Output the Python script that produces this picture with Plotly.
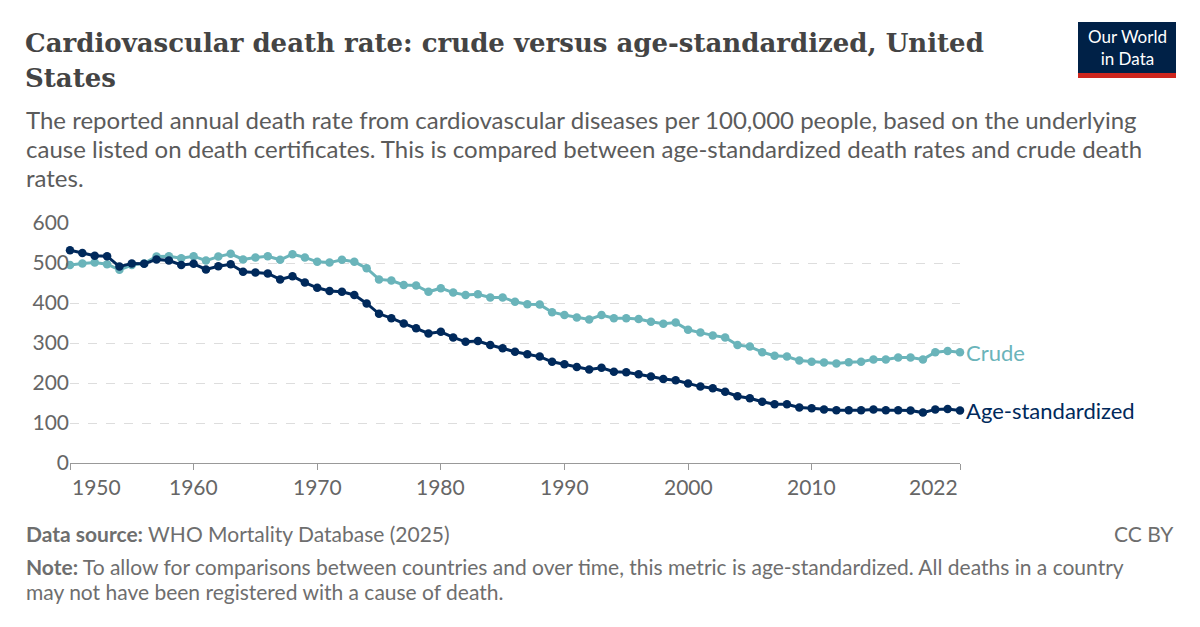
import plotly.graph_objects as go

years = list(range(1950, 2023))

crude = [495, 499, 501, 497, 483, 495, 499, 516, 517, 512,
         517, 506, 516, 523, 509, 514, 517, 508, 522, 514,
         503, 501, 508, 503, 487, 459, 456, 445, 444, 428,
         437, 426, 420, 422, 414, 414, 403, 397, 396, 377,
         370, 364, 359, 370, 362, 362, 360, 353, 348, 351,
         333, 326, 319, 314, 295, 291, 277, 268, 266, 256,
         253, 251, 249, 252, 253, 259, 259, 264, 264, 259,
         277, 280, 277]

age_std = [532, 525, 518, 517, 491, 499, 498, 509, 506, 495,
           498, 484, 492, 497, 478, 476, 474, 459, 467, 451,
           438, 430, 428, 420, 399, 373, 362, 349, 337, 324,
           328, 314, 303, 305, 295, 287, 278, 272, 266, 253,
           247, 240, 234, 238, 228, 227, 222, 216, 210, 207,
           199, 191, 187, 178, 167, 162, 153, 147, 147, 139,
           137, 134, 132, 132, 132, 134, 132, 132, 131, 126,
           134, 135, 131]

x_ticks = [1950, 1960, 1970, 1980, 1990, 2000, 2010, 2022]
y_ticks = [0, 100, 200, 300, 400, 500, 600]

title_lines = ["Cardiovascular death rate: crude versus age-standardized, United", "States"]
subtitle_lines = [
    "The reported annual death rate from cardiovascular diseases per 100,000 people, based on the underlying",
    "cause listed on death certificates. This is compared between age-standardized death rates and crude death",
    "rates.",
]
note_lines = [
    "<b>Note:</b> To allow for comparisons between countries and over time, this metric is age-standardized. All deaths in a country",
    "may not have been registered with a cause of death.",
]

CRUDE_COLOR = "#6ab4ba"
AGE_COLOR = "#00295b"
TEXT_GRAY = "#5b5b5b"
TICK_GRAY = "#666666"

W, H = 1200, 627
pl, pr, pt, pb = 70, 240, 223, 164
pw, ph = W - pl - pr, H - pt - pb


def px(x):
    return (x - pl) / pw


def py(y):
    return (H - pb - y) / ph


fig = go.Figure()
fig.add_trace(go.Scatter(x=years, y=crude, mode="lines+markers", name="Crude",
                         line=dict(color=CRUDE_COLOR, width=3),
                         marker=dict(color=CRUDE_COLOR, size=8.5),
                         cliponaxis=False, showlegend=False))
fig.add_trace(go.Scatter(x=years, y=age_std, mode="lines+markers", name="Age-standardized",
                         line=dict(color=AGE_COLOR, width=3),
                         marker=dict(color=AGE_COLOR, size=8.5),
                         cliponaxis=False, showlegend=False))

fig.add_annotation(x=years[-1], y=crude[-1], text="Crude", showarrow=False,
                   xanchor="left", yanchor="middle", xshift=4,
                   font=dict(family="Lato", size=22, color=CRUDE_COLOR))
fig.add_annotation(x=years[-1], y=age_std[-1], text="Age-standardized", showarrow=False,
                   xanchor="left", yanchor="middle", xshift=4,
                   font=dict(family="Lato", size=22, color=AGE_COLOR))

# x tick labels (first left-aligned, last right-aligned like the original)
for i, t in enumerate(x_ticks):
    anchor = "left" if i == 0 else ("right" if i == len(x_ticks) - 1 else "center")
    fig.add_annotation(x=t, y=py(486), xref="x", yref="paper", text=str(t), showarrow=False,
                       xanchor=anchor, yanchor="middle",
                       font=dict(family="Lato", size=21, color=TICK_GRAY))

fig.update_layout(
    width=W, height=H,
    margin=dict(l=pl, r=pr, t=pt, b=pb),
    paper_bgcolor="white", plot_bgcolor="white",
    font=dict(family="Lato", color=TICK_GRAY),
    xaxis=dict(range=[1950, 2022], tickvals=x_ticks, showticklabels=False,
               showgrid=False, showline=True, linecolor="#999999", linewidth=1,
               ticks="outside", ticklen=6, tickcolor="#999999", zeroline=False),
    yaxis=dict(range=[0, 600], tickvals=y_ticks, showgrid=True, gridcolor="#dddddd",
               griddash="dash", gridwidth=1, zeroline=False, showline=False,
               tickfont=dict(family="Lato", size=21, color=TICK_GRAY), ticks=""),
)

# Title
for i, line in enumerate(title_lines):
    fig.add_annotation(xref="paper", yref="paper", x=px(23), y=py(43 + 35 * i),
                       xanchor="left", yanchor="middle", text="<b>" + line + "</b>", showarrow=False,
                       font=dict(family="DejaVu Serif", size=26, color="#444444"))

# Subtitle
for i, line in enumerate(subtitle_lines):
    fig.add_annotation(xref="paper", yref="paper", x=px(24), y=py(119 + 29 * i),
                       xanchor="left", yanchor="middle", text=line, showarrow=False,
                       font=dict(family="Lato", size=24, color=TEXT_GRAY))

# Footer
fig.add_annotation(xref="paper", yref="paper", x=px(24), y=py(533), xanchor="left", yanchor="middle",
                   text="<b>Data source:</b> WHO Mortality Database (2025)", showarrow=False,
                   font=dict(family="Lato", size=21, color="#6e6e6e"))
fig.add_annotation(xref="paper", yref="paper", x=px(1176), y=py(533), xanchor="right", yanchor="middle",
                   text="CC BY", showarrow=False,
                   font=dict(family="Lato", size=21, color="#6e6e6e"))
for i, line in enumerate(note_lines):
    fig.add_annotation(xref="paper", yref="paper", x=px(24), y=py(566 + 25 * i),
                       xanchor="left", yanchor="middle", text=line, showarrow=False,
                       font=dict(family="Lato", size=21, color="#6e6e6e"))

# Logo
fig.add_shape(type="rect", xref="paper", yref="paper", x0=px(1078), x1=px(1176), y0=py(73), y1=py(22),
              fillcolor="#002147", line=dict(width=0), layer="above")
fig.add_shape(type="rect", xref="paper", yref="paper", x0=px(1078), x1=px(1176), y0=py(78), y1=py(73),
              fillcolor="#ce261e", line=dict(width=0), layer="above")
fig.add_annotation(xref="paper", yref="paper", x=px(1127), y=py(47.5), xanchor="center", yanchor="middle",
                   text="Our World<br>in Data", showarrow=False, align="center",
                   font=dict(family="Lato", size=17, color="white"))

fig.write_html("out.html")
